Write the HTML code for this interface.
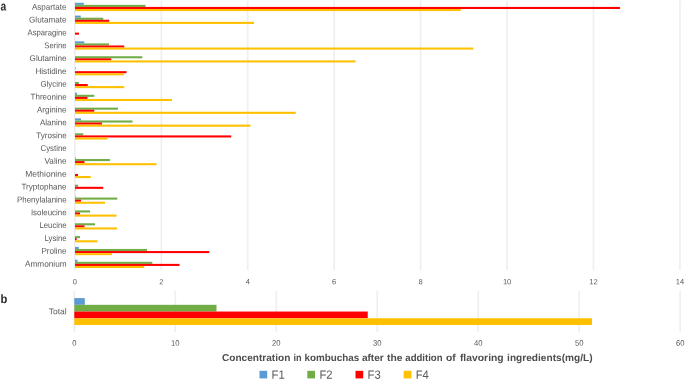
<!DOCTYPE html><html><head><meta charset="utf-8"><title>Figure</title><style>html,body{margin:0;padding:0;background:#fff}svg{display:block}text{font-family:"Liberation Sans",sans-serif}</style></head><body>
<svg width="685" height="380" viewBox="0 0 685 380">
<rect width="685" height="380" fill="#fff"/>
<line x1="74.85" y1="0.5" x2="74.85" y2="270.3" stroke="#EBEBEB" stroke-width="1.4"/>
<line x1="161.29" y1="0.5" x2="161.29" y2="270.3" stroke="#EFEFEF" stroke-width="1.7"/>
<line x1="247.73" y1="0.5" x2="247.73" y2="270.3" stroke="#EFEFEF" stroke-width="1.7"/>
<line x1="334.17" y1="0.5" x2="334.17" y2="270.3" stroke="#EFEFEF" stroke-width="1.7"/>
<line x1="420.61" y1="0.5" x2="420.61" y2="270.3" stroke="#EFEFEF" stroke-width="1.7"/>
<line x1="507.05" y1="0.5" x2="507.05" y2="270.3" stroke="#EFEFEF" stroke-width="1.7"/>
<line x1="593.49" y1="0.5" x2="593.49" y2="270.3" stroke="#EFEFEF" stroke-width="1.7"/>
<line x1="679.93" y1="0.5" x2="679.93" y2="270.3" stroke="#EFEFEF" stroke-width="1.7"/>
<line x1="74.35" y1="290.8" x2="74.35" y2="331.9" stroke="#EBEBEB" stroke-width="1.4"/>
<line x1="175.32" y1="290.8" x2="175.32" y2="331.9" stroke="#EFEFEF" stroke-width="1.7"/>
<line x1="276.29" y1="290.8" x2="276.29" y2="331.9" stroke="#EFEFEF" stroke-width="1.7"/>
<line x1="377.26" y1="290.8" x2="377.26" y2="331.9" stroke="#EFEFEF" stroke-width="1.7"/>
<line x1="478.23" y1="290.8" x2="478.23" y2="331.9" stroke="#EFEFEF" stroke-width="1.7"/>
<line x1="579.20" y1="290.8" x2="579.20" y2="331.9" stroke="#EFEFEF" stroke-width="1.7"/>
<line x1="680.17" y1="290.8" x2="680.17" y2="331.9" stroke="#EFEFEF" stroke-width="1.7"/>
<rect x="75.0" y="2.77" width="8.75" height="2.08" fill="#5B9BD5"/>
<rect x="75.0" y="4.85" width="70.50" height="2.08" fill="#70AD47"/>
<rect x="75.0" y="6.92" width="544.90" height="2.08" fill="#FF0000"/>
<rect x="75.0" y="9.00" width="385.75" height="2.08" fill="#FFC000"/>
<rect x="75.0" y="15.62" width="5.75" height="2.08" fill="#5B9BD5"/>
<rect x="75.0" y="17.70" width="28.25" height="2.08" fill="#70AD47"/>
<rect x="75.0" y="19.77" width="34.25" height="2.08" fill="#FF0000"/>
<rect x="75.0" y="21.85" width="179.00" height="2.08" fill="#FFC000"/>
<rect x="75.0" y="32.62" width="4.00" height="2.08" fill="#FF0000"/>
<rect x="75.0" y="41.32" width="9.25" height="2.08" fill="#5B9BD5"/>
<rect x="75.0" y="43.39" width="34.00" height="2.08" fill="#70AD47"/>
<rect x="75.0" y="45.47" width="49.25" height="2.08" fill="#FF0000"/>
<rect x="75.0" y="47.54" width="398.25" height="2.08" fill="#FFC000"/>
<rect x="75.0" y="56.24" width="67.25" height="2.08" fill="#70AD47"/>
<rect x="75.0" y="58.31" width="36.25" height="2.08" fill="#FF0000"/>
<rect x="75.0" y="60.39" width="280.50" height="2.08" fill="#FFC000"/>
<rect x="75.0" y="67.01" width="0.60" height="2.08" fill="#5B9BD5"/>
<rect x="75.0" y="71.16" width="51.50" height="2.08" fill="#FF0000"/>
<rect x="75.0" y="73.24" width="49.00" height="2.08" fill="#FFC000"/>
<rect x="75.0" y="81.93" width="3.75" height="2.08" fill="#70AD47"/>
<rect x="75.0" y="84.01" width="12.75" height="2.08" fill="#FF0000"/>
<rect x="75.0" y="86.09" width="49.25" height="2.08" fill="#FFC000"/>
<rect x="75.0" y="92.71" width="2.00" height="2.08" fill="#5B9BD5"/>
<rect x="75.0" y="94.78" width="19.25" height="2.08" fill="#70AD47"/>
<rect x="75.0" y="96.86" width="12.50" height="2.08" fill="#FF0000"/>
<rect x="75.0" y="98.93" width="97.00" height="2.08" fill="#FFC000"/>
<rect x="75.0" y="107.63" width="43.00" height="2.08" fill="#70AD47"/>
<rect x="75.0" y="109.70" width="19.25" height="2.08" fill="#FF0000"/>
<rect x="75.0" y="111.78" width="220.75" height="2.08" fill="#FFC000"/>
<rect x="75.0" y="118.40" width="6.00" height="2.08" fill="#5B9BD5"/>
<rect x="75.0" y="120.48" width="57.50" height="2.08" fill="#70AD47"/>
<rect x="75.0" y="122.55" width="27.00" height="2.08" fill="#FF0000"/>
<rect x="75.0" y="124.63" width="175.50" height="2.08" fill="#FFC000"/>
<rect x="75.0" y="133.32" width="8.25" height="2.08" fill="#70AD47"/>
<rect x="75.0" y="135.40" width="156.25" height="2.08" fill="#FF0000"/>
<rect x="75.0" y="137.48" width="32.50" height="2.08" fill="#FFC000"/>
<rect x="75.0" y="156.94" width="0.50" height="2.08" fill="#5B9BD5"/>
<rect x="75.0" y="159.02" width="35.00" height="2.08" fill="#70AD47"/>
<rect x="75.0" y="161.10" width="9.50" height="2.08" fill="#FF0000"/>
<rect x="75.0" y="163.17" width="81.50" height="2.08" fill="#FFC000"/>
<rect x="75.0" y="173.94" width="3.00" height="2.08" fill="#FF0000"/>
<rect x="75.0" y="176.02" width="15.75" height="2.08" fill="#FFC000"/>
<rect x="75.0" y="184.71" width="3.00" height="2.08" fill="#70AD47"/>
<rect x="75.0" y="186.79" width="28.25" height="2.08" fill="#FF0000"/>
<rect x="75.0" y="188.87" width="1.00" height="2.08" fill="#FFC000"/>
<rect x="75.0" y="195.49" width="0.50" height="2.08" fill="#5B9BD5"/>
<rect x="75.0" y="197.56" width="42.25" height="2.08" fill="#70AD47"/>
<rect x="75.0" y="199.64" width="6.00" height="2.08" fill="#FF0000"/>
<rect x="75.0" y="201.71" width="30.00" height="2.08" fill="#FFC000"/>
<rect x="75.0" y="210.41" width="15.00" height="2.08" fill="#70AD47"/>
<rect x="75.0" y="212.49" width="5.00" height="2.08" fill="#FF0000"/>
<rect x="75.0" y="214.56" width="41.50" height="2.08" fill="#FFC000"/>
<rect x="75.0" y="223.26" width="20.00" height="2.08" fill="#70AD47"/>
<rect x="75.0" y="225.33" width="9.50" height="2.08" fill="#FF0000"/>
<rect x="75.0" y="227.41" width="42.00" height="2.08" fill="#FFC000"/>
<rect x="75.0" y="236.11" width="5.00" height="2.08" fill="#70AD47"/>
<rect x="75.0" y="238.18" width="1.75" height="2.08" fill="#FF0000"/>
<rect x="75.0" y="240.26" width="22.50" height="2.08" fill="#FFC000"/>
<rect x="75.0" y="246.88" width="3.75" height="2.08" fill="#5B9BD5"/>
<rect x="75.0" y="248.95" width="72.00" height="2.08" fill="#70AD47"/>
<rect x="75.0" y="251.03" width="134.25" height="2.08" fill="#FF0000"/>
<rect x="75.0" y="253.10" width="37.00" height="2.08" fill="#FFC000"/>
<rect x="75.0" y="259.73" width="2.50" height="2.08" fill="#5B9BD5"/>
<rect x="75.0" y="261.80" width="77.25" height="2.08" fill="#70AD47"/>
<rect x="75.0" y="263.88" width="104.50" height="2.08" fill="#FF0000"/>
<rect x="75.0" y="265.95" width="69.25" height="2.08" fill="#FFC000"/>
<text transform="rotate(0.06 31.90 9.67)" x="31.90" y="9.67" font-size="8.4" fill="#595959" textLength="34.70" lengthAdjust="spacingAndGlyphs">Aspartate</text>
<text transform="rotate(0.06 29.00 22.52)" x="29.00" y="22.52" font-size="8.4" fill="#595959" textLength="37.60" lengthAdjust="spacingAndGlyphs">Glutamate</text>
<text transform="rotate(0.06 27.50 35.37)" x="27.50" y="35.37" font-size="8.4" fill="#595959" textLength="39.10" lengthAdjust="spacingAndGlyphs">Asparagine</text>
<text transform="rotate(0.06 44.30 48.22)" x="44.30" y="48.22" font-size="8.4" fill="#595959" textLength="22.30" lengthAdjust="spacingAndGlyphs">Serine</text>
<text transform="rotate(0.06 29.60 61.06)" x="29.60" y="61.06" font-size="8.4" fill="#595959" textLength="37.00" lengthAdjust="spacingAndGlyphs">Glutamine</text>
<text transform="rotate(0.06 35.40 73.91)" x="35.40" y="73.91" font-size="8.4" fill="#595959" textLength="31.20" lengthAdjust="spacingAndGlyphs">Histidine</text>
<text transform="rotate(0.06 40.50 86.76)" x="40.50" y="86.76" font-size="8.4" fill="#595959" textLength="26.10" lengthAdjust="spacingAndGlyphs">Glycine</text>
<text transform="rotate(0.06 30.60 99.61)" x="30.60" y="99.61" font-size="8.4" fill="#595959" textLength="36.00" lengthAdjust="spacingAndGlyphs">Threonine</text>
<text transform="rotate(0.06 36.90 112.45)" x="36.90" y="112.45" font-size="8.4" fill="#595959" textLength="29.70" lengthAdjust="spacingAndGlyphs">Arginine</text>
<text transform="rotate(0.06 39.90 125.30)" x="39.90" y="125.30" font-size="8.4" fill="#595959" textLength="26.70" lengthAdjust="spacingAndGlyphs">Alanine</text>
<text transform="rotate(0.06 36.30 138.15)" x="36.30" y="138.15" font-size="8.4" fill="#595959" textLength="30.30" lengthAdjust="spacingAndGlyphs">Tyrosine</text>
<text transform="rotate(0.06 40.50 151.00)" x="40.50" y="151.00" font-size="8.4" fill="#595959" textLength="26.10" lengthAdjust="spacingAndGlyphs">Cystine</text>
<text transform="rotate(0.06 44.50 163.85)" x="44.50" y="163.85" font-size="8.4" fill="#595959" textLength="22.10" lengthAdjust="spacingAndGlyphs">Valine</text>
<text transform="rotate(0.06 25.30 176.69)" x="25.30" y="176.69" font-size="8.4" fill="#595959" textLength="41.30" lengthAdjust="spacingAndGlyphs">Methionine</text>
<text transform="rotate(0.06 21.40 189.54)" x="21.40" y="189.54" font-size="8.4" fill="#595959" textLength="45.20" lengthAdjust="spacingAndGlyphs">Tryptophane</text>
<text transform="rotate(0.06 17.00 202.39)" x="17.00" y="202.39" font-size="8.4" fill="#595959" textLength="49.60" lengthAdjust="spacingAndGlyphs">Phenylalanine</text>
<text transform="rotate(0.06 30.90 215.24)" x="30.90" y="215.24" font-size="8.4" fill="#595959" textLength="35.70" lengthAdjust="spacingAndGlyphs">Isoleucine</text>
<text transform="rotate(0.06 39.50 228.08)" x="39.50" y="228.08" font-size="8.4" fill="#595959" textLength="27.10" lengthAdjust="spacingAndGlyphs">Leucine</text>
<text transform="rotate(0.06 44.50 240.93)" x="44.50" y="240.93" font-size="8.4" fill="#595959" textLength="22.10" lengthAdjust="spacingAndGlyphs">Lysine</text>
<text transform="rotate(0.06 41.40 253.78)" x="41.40" y="253.78" font-size="8.4" fill="#595959" textLength="25.20" lengthAdjust="spacingAndGlyphs">Proline</text>
<text transform="rotate(0.06 25.00 266.63)" x="25.00" y="266.63" font-size="8.4" fill="#595959" textLength="41.60" lengthAdjust="spacingAndGlyphs">Ammonium</text>
<text transform="rotate(0.06 74.85 284.2)" x="74.85" y="284.2" font-size="7.5" fill="#595959" text-anchor="middle">0</text>
<text transform="rotate(0.06 161.29 284.2)" x="161.29" y="284.2" font-size="7.5" fill="#595959" text-anchor="middle">2</text>
<text transform="rotate(0.06 247.73 284.2)" x="247.73" y="284.2" font-size="7.5" fill="#595959" text-anchor="middle">4</text>
<text transform="rotate(0.06 334.17 284.2)" x="334.17" y="284.2" font-size="7.5" fill="#595959" text-anchor="middle">6</text>
<text transform="rotate(0.06 420.61 284.2)" x="420.61" y="284.2" font-size="7.5" fill="#595959" text-anchor="middle">8</text>
<text transform="rotate(0.06 507.05 284.2)" x="507.05" y="284.2" font-size="7.5" fill="#595959" text-anchor="middle">10</text>
<text transform="rotate(0.06 593.49 284.2)" x="593.49" y="284.2" font-size="7.5" fill="#595959" text-anchor="middle">12</text>
<text transform="rotate(0.06 679.93 284.2)" x="679.93" y="284.2" font-size="7.5" fill="#595959" text-anchor="middle">14</text>
<rect x="74.3" y="298.10" width="10.50" height="6.72" fill="#5B9BD5"/>
<rect x="74.3" y="304.82" width="142.20" height="6.72" fill="#70AD47"/>
<rect x="74.3" y="311.54" width="293.45" height="6.72" fill="#FF0000"/>
<rect x="74.3" y="318.26" width="517.70" height="6.72" fill="#FFC000"/>
<text transform="rotate(0.06 48.7 314.2)" x="48.7" y="314.2" font-size="8.4" fill="#595959" textLength="17.9" lengthAdjust="spacingAndGlyphs">Total</text>
<text transform="rotate(0.06 72.22 345.8)" x="72.22" y="345.8" font-size="8.1" fill="#595959" textLength="4.25" lengthAdjust="spacingAndGlyphs">0</text>
<text transform="rotate(0.06 171.07 345.8)" x="171.07" y="345.8" font-size="8.1" fill="#595959" textLength="8.50" lengthAdjust="spacingAndGlyphs">10</text>
<text transform="rotate(0.06 272.04 345.8)" x="272.04" y="345.8" font-size="8.1" fill="#595959" textLength="8.50" lengthAdjust="spacingAndGlyphs">20</text>
<text transform="rotate(0.06 373.01 345.8)" x="373.01" y="345.8" font-size="8.1" fill="#595959" textLength="8.50" lengthAdjust="spacingAndGlyphs">30</text>
<text transform="rotate(0.06 473.98 345.8)" x="473.98" y="345.8" font-size="8.1" fill="#595959" textLength="8.50" lengthAdjust="spacingAndGlyphs">40</text>
<text transform="rotate(0.06 574.95 345.8)" x="574.95" y="345.8" font-size="8.1" fill="#595959" textLength="8.50" lengthAdjust="spacingAndGlyphs">50</text>
<text transform="rotate(0.06 675.92 345.8)" x="675.92" y="345.8" font-size="8.1" fill="#595959" textLength="8.50" lengthAdjust="spacingAndGlyphs">60</text>
<text transform="rotate(0.06 0.5 10.6)" x="0.5" y="10.6" font-size="12.8" font-weight="bold" fill="#2b2b2b" textLength="5.7" lengthAdjust="spacingAndGlyphs">a</text>
<text transform="rotate(0.06 0.5 303)" x="0.5" y="303" font-size="12.2" font-weight="bold" fill="#2b2b2b" textLength="6.85" lengthAdjust="spacingAndGlyphs">b</text>
<text transform="rotate(0.06 222.00 361)" x="222.00" y="361" font-size="10" font-weight="bold" fill="#4d4d4d" textLength="68.30" lengthAdjust="spacingAndGlyphs">Concentration</text>
<text transform="rotate(0.06 293.50 361)" x="293.50" y="361" font-size="10" font-weight="bold" fill="#4d4d4d" textLength="8.10" lengthAdjust="spacingAndGlyphs">in</text>
<text transform="rotate(0.06 304.50 361)" x="304.50" y="361" font-size="10" font-weight="bold" fill="#4d4d4d" textLength="54.70" lengthAdjust="spacingAndGlyphs">kombuchas</text>
<text transform="rotate(0.06 361.90 361)" x="361.90" y="361" font-size="10" font-weight="bold" fill="#4d4d4d" textLength="21.90" lengthAdjust="spacingAndGlyphs">after</text>
<text transform="rotate(0.06 387.00 361)" x="387.00" y="361" font-size="10" font-weight="bold" fill="#4d4d4d" textLength="15.40" lengthAdjust="spacingAndGlyphs">the</text>
<text transform="rotate(0.06 405.30 361)" x="405.30" y="361" font-size="10" font-weight="bold" fill="#4d4d4d" textLength="37.30" lengthAdjust="spacingAndGlyphs">addition</text>
<text transform="rotate(0.06 446.00 361)" x="446.00" y="361" font-size="10" font-weight="bold" fill="#4d4d4d" textLength="9.70" lengthAdjust="spacingAndGlyphs">of</text>
<text transform="rotate(0.06 459.90 361)" x="459.90" y="361" font-size="10" font-weight="bold" fill="#4d4d4d" textLength="43.80" lengthAdjust="spacingAndGlyphs">flavoring</text>
<text transform="rotate(0.06 507.10 361)" x="507.10" y="361" font-size="10" font-weight="bold" fill="#4d4d4d" textLength="85.50" lengthAdjust="spacingAndGlyphs">ingredients(mg/L)</text>
<rect x="259.5" y="370.8" width="7.7" height="7.6" fill="#5B9BD5"/>
<text transform="rotate(0.06 271.5 378.8)" x="271.5" y="378.8" font-size="12" fill="#595959" textLength="13.2" lengthAdjust="spacingAndGlyphs">F1</text>
<rect x="307.3" y="370.8" width="7.7" height="7.6" fill="#70AD47"/>
<text transform="rotate(0.06 319.4 378.8)" x="319.4" y="378.8" font-size="12" fill="#595959" textLength="13.2" lengthAdjust="spacingAndGlyphs">F2</text>
<rect x="355.5" y="370.8" width="7.7" height="7.6" fill="#FF0000"/>
<text transform="rotate(0.06 367.5 378.8)" x="367.5" y="378.8" font-size="12" fill="#595959" textLength="13.2" lengthAdjust="spacingAndGlyphs">F3</text>
<rect x="403.7" y="370.8" width="7.7" height="7.6" fill="#FFC000"/>
<text transform="rotate(0.06 415.7 378.8)" x="415.7" y="378.8" font-size="12" fill="#595959" textLength="13.2" lengthAdjust="spacingAndGlyphs">F4</text>
</svg></body></html>
